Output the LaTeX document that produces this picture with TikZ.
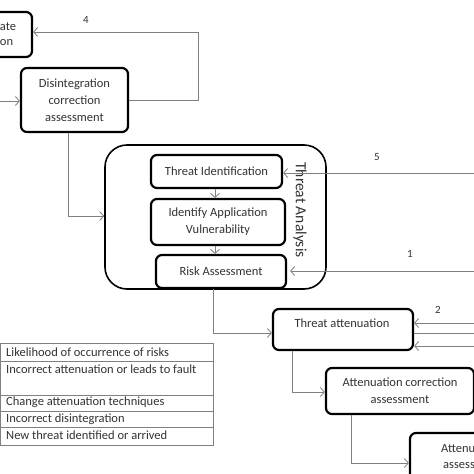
\documentclass[tikz,border=0pt]{standalone}
\usepackage{fontspec}
\setmainfont{Carlito}
\usetikzlibrary{arrows.meta}
\definecolor{conn}{HTML}{808080}
\definecolor{txt}{HTML}{333333}
\tikzset{
  box/.style={draw=black, line width=2.2pt, rounded corners=6pt, align=center, inner sep=2pt, text=txt, font=\fontsize{12.5}{17}\selectfont},
  cont/.style={draw=black, line width=1.6pt, rounded corners=22pt},
  wire/.style={draw=conn, line width=1pt},
  arr/.style={wire, -{Straight Barb[length=4pt,width=9pt,line width=0.8pt]}},
  lbl/.style={text=txt, font=\fontsize{11}{13}\selectfont, inner sep=0pt},
  leg/.style={text=txt, font=\fontsize{12.5}{14}\selectfont, inner sep=0pt, anchor=west},
}
\begin{document}
\begin{tikzpicture}[x=1pt,y=-1pt]
\clip (0,0) rectangle (474,474);
\fill[white] (0,0) rectangle (474,474);
% container
\node[cont, minimum width=221pt, minimum height=144pt] (ta) at (215.5,217) {};
\node[text=txt, font=\fontsize{15.5}{17}\selectfont, rotate=-90, inner sep=0pt] (talbl) at (300,210) {Threat Analysis};
% boxes
\node[box, minimum width=72pt, minimum height=45pt] (tl) at (-4,34.5) {};
\node[lbl, font=\fontsize{12.5}{14}\selectfont] (tlA) at (8,27) {ate};
\node[lbl, font=\fontsize{12.5}{14}\selectfont] (tlB) at (6.5,43) {on};
\node[box, minimum width=107pt, minimum height=64pt] (dca) at (74.5,100) {Disintegration\\correction\\assessment};
\node[box, minimum width=131pt, minimum height=33pt] (ti) at (216.5,171.5) {Threat Identification};
\node[box, minimum width=134pt, minimum height=46pt] (iav) at (218,222) {Identify Application\\Vulnerability};
\node[box, minimum width=130pt, minimum height=33pt] (ra) at (221,271.5) {Risk Assessment};
\node[box, minimum width=140pt, minimum height=41pt] (tat) at (343,329.5) {};
\node[lbl, font=\fontsize{12.5}{14}\selectfont] (tatT) at (342,323) {Threat attenuation};
\node[box, minimum width=148pt, minimum height=46pt] (aca) at (400,391) {Attenuation correction\\assessment};
\node[box, minimum width=120pt, minimum height=74pt] (br) at (470,470) {};
\node[lbl, font=\fontsize{12.5}{14}\selectfont, anchor=west] (brA) at (441,449) {Attenu};
\node[lbl, font=\fontsize{12.5}{14}\selectfont, anchor=west] (brB) at (443,466) {assess};
% connector coordinates
\coordinate (c4) at (198,32);
\coordinate (inL) at (0,101);
\coordinate (c1) at (68,216);
\coordinate (in5) at (474,173);
\coordinate (in1) at (474,271);
\coordinate (c2) at (213,333);
\coordinate (in2) at (474,323);
\coordinate (out2) at (474,333);
\coordinate (in3) at (474,346);
\coordinate (c3) at (292,392);
\coordinate (c5) at (351,463);
% connectors
\draw[arr] (dca.east) -| (c4) -- (tl.east |- c4);
\node[lbl] (l4) at (86,20) {4};
\draw[arr] (inL) -- (dca.west |- inL);
\draw[arr] (dca.south -| c1) -- (c1) -- (ta.west |- c1);
\draw[arr] (ti.south -| 215,0) -- (iav.north -| 215,0);
\draw[arr] (iav.south -| 215,0) -- (ra.north -| 215,0);
\draw[arr] (in5) -- (ti.east |- in5);
\node[lbl] (l5) at (377,157) {5};
\draw[arr] (in1) -- ([xshift=3pt]ra.east |- in1);
\node[lbl] (l1) at (410,254) {1};
\draw[arr] (ra.south -| c2) -- (c2) -- (tat.west |- c2);
\draw[arr] (in2) -- (tat.east |- in2);
\node[lbl] (l2) at (438,310) {2};
\draw[wire] (out2) -- (tat.east |- out2);
\draw[arr] (in3) -- (tat.east |- in3);
\draw[arr] (tat.south -| c3) -- (c3) -- (aca.west |- c3);
\draw[arr] (aca.south -| c5) -- (c5) -- (br.west |- c5);
% legend table
\draw[draw=conn, line width=0.9pt] (0.5,343) rectangle (213,445);
\foreach \yy in {361,395,411,427} \draw[draw=conn, line width=0.9pt] (0.5,\yy) -- (213,\yy);
\node[leg] (g1) at (6,352) {Likelihood of occurrence of risks};
\node[leg] (g2) at (6,369) {Incorrect attenuation or leads to fault};
\node[leg] (g3) at (6,402) {Change attenuation techniques};
\node[leg] (g4) at (6,419) {Incorrect disintegration};
\node[leg] (g5) at (6,435) {New threat identified or arrived};
\end{tikzpicture}
\end{document}
